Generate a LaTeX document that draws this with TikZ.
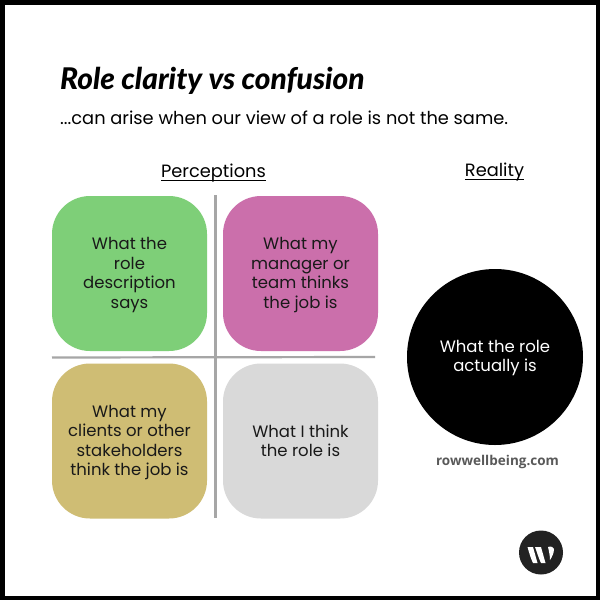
\documentclass[tikz,border=0pt]{standalone}
\usepackage{fontspec}
\setmainfont{Poppins}
\newfontfamily\titlefont{Lato Black}
\newfontfamily\sitefont{Open Sans}
\definecolor{boxgreen}{HTML}{7ECF78}
\definecolor{boxpink}{HTML}{CB6FAB}
\definecolor{boxtan}{HTML}{CFBD74}
\definecolor{boxgrey}{HTML}{D9D9D9}
\definecolor{rulegrey}{HTML}{A6A6A6}
\definecolor{logoblack}{HTML}{222222}
\newcommand{\headline}[1]{\setbox0\hbox{#1}\rlap{\rule[-3.5pt]{\wd0}{1pt}}\box0}
\newcommand{\lift}{\rule{0pt}{15.5pt}}
\tikzset{
  quadbox/.style={minimum size=155pt,rounded corners=38pt,inner sep=0pt,align=center,
    font=\fontsize{16.5}{19.5}\selectfont,text=black!90},
  headtext/.style={inner sep=0pt,font=\fontsize{17.8}{21}\selectfont},
  quadrule/.style={draw=rulegrey,line width=2.2pt}
}
\begin{document}
\begin{tikzpicture}[x=1pt,y=-1pt]
\useasboundingbox (0,0) rectangle (600,600);
%%% The frame and the headings
\fill[white] (0,0) rectangle (600,600);
\draw[black,line width=4.5pt] (2.25,2.25) rectangle (597.75,597.75);
\node[inner sep=0pt,anchor=base west,font=\titlefont\itshape\fontsize{29.9}{32}\selectfont] (title) at (60,89) {Role clarity vs confusion};
\node[inner sep=0pt,anchor=base west,font=\fontsize{17.8}{22}\selectfont] (subtitle) at (60,124) {...can arise when our view of a role is not the same.};
\node[headtext,anchor=base] (perceptions) at (213.5,177) {\headline{Perceptions}};
\node[headtext,anchor=base] (reality) at (494.5,176) {\headline{Reality}};
%
%%% The four perceptions
\node[quadbox,fill=boxgreen] (roledesc) at (129.5,273.5) {\lift What the\\role\\description\\says};
\node[quadbox,fill=boxpink] (manager) at (300.5,273.5) {\lift What my\\manager or\\team thinks\\the job is};
\node[quadbox,fill=boxtan] (clients) at (129.5,441) {\lift What my\\clients or other\\stakeholders\\think the job is};
\node[quadbox,fill=boxgrey] (myview) at (300.5,441) {What I think\\the role is};
%
\coordinate (rulenorth) at (215.5,195);
\coordinate (rulesouth) at (215.5,518);
\coordinate (rulewest) at (52,357.5);
\coordinate (ruleeast) at (375,357);
\draw[quadrule] (rulenorth) -- (rulesouth);
\draw[quadrule] (rulewest) -- (ruleeast);
%
%%% Reality
\node[circle,fill=black,text=white,minimum size=176pt,inner sep=0pt,align=center,font=\fontsize{16.5}{19.5}\selectfont] (actual) at (495,357) {\rule{0pt}{14.5pt}What the role\\actually is};
\node[inner sep=0pt,anchor=base,text=black!65,font=\sitefont\bfseries\fontsize{13.5}{15}\selectfont] (website) at (497.5,465) {rowwellbeing.com};
%
%%% The logo
\node[circle,fill=logoblack,minimum size=44pt,inner sep=0pt] (logo) at (541,552.5) {};
\fill[white] (527.5,547) -- (533,547) -- (537.5,563) -- (533,563) .. controls (530.5,558) and (529,552) .. (527.5,547);
\fill[white] (535,547) -- (541,547) -- (545.5,563) -- (541,563) .. controls (538.5,558) and (537,552) .. (535,547);
\fill[white] (548,547) .. controls (551,546) and (554,547) .. (554,549) .. controls (554,553) and (552,557) .. (550,560) .. controls (550,556) and (549,551) .. (548,547);
\end{tikzpicture}
\end{document}
